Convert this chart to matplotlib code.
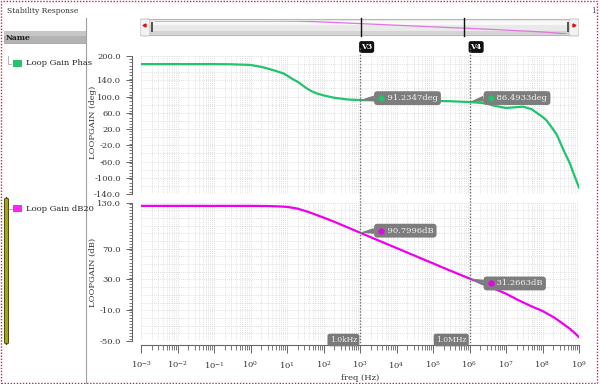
import matplotlib
matplotlib.use("Agg")
import matplotlib.pyplot as plt
from matplotlib import ticker, transforms
from matplotlib.patches import Rectangle, FancyBboxPatch, Polygon
from matplotlib.lines import Line2D

# values
freq = [1e-3, 1e-2, 1e-1, 0.3, 1, 2, 3, 5, 8, 10, 15, 20, 35, 50, 70, 100,
        200, 440, 1e3, 1e4, 1e5, 3e5, 1e6, 2e6, 3e6, 5e6, 1e7, 2e7, 3e7,
        5e7, 1e8, 1.3e8, 2e8, 2.5e8, 4e8, 5.6e8, 7e8, 1e9]
phase_deg = [180, 180, 180, 179.6, 178, 173, 169, 163, 157, 152, 142, 136,
             120, 112, 107, 103, 97, 93, 91.23, 90.6, 89.6, 88.5, 86.49,
             84.5, 82.5, 77, 72, 74, 75, 69, 50, 41, 18, 5, -37, -64, -88,
             -124]
gain_db = [125.6, 125.6, 125.6, 125.6, 125.6, 125.5, 125.4, 125.1, 124.6,
           124.2, 123, 121.9, 118.3, 115.8, 113.1, 110.5, 104.8, 98, 90.8,
           70.8, 50.9, 41.3, 31.27, 25.5, 22, 17.5, 11.5, 4, 0, -5, -11, -14,
           -19, -22, -29, -34, -38, -45]

cursor_freq = [1e3, 1e6]
cursor_names = ["V3", "V4"]
cursor_tags = ["1.0kHz", "1.0MHz"]
phase_marks = ["91.2347deg", "86.4933deg"]
phase_vals = [91.2347, 86.4933]
gain_marks = ["90.7996dB", "31.2663dB"]
gain_vals = [90.7996, 31.2663]

phase_ticks = [-140, -100, -60, -20, 20, 60, 100, 140, 200]
gain_ticks = [-50, -10, 30, 70, 130]

GREEN = "#1fc46c"
MAGENTA = "#ee00ee"
W, H = 600, 384

plt.rcParams["font.family"] = ["DejaVu Serif", "DejaVu Sans"]
plt.rcParams["mathtext.fontset"] = "dejavuserif"
plt.rcParams["font.size"] = 6


def box(l, t, r, b):
    return [l / W, 1 - b / H, (r - l) / W, (b - t) / H]


def fx(x):
    return x / W


def fy(y):
    return 1 - y / H


fig = plt.figure(figsize=(W / 100, H / 100), dpi=100)
fig.patch.set_facecolor("white")


def setup(ax, ylim, yticks, minor, grid_step):
    ax.set_xscale("log")
    ax.set_xlim(1e-3, 1e9)
    ax.set_ylim(*ylim)
    ax.set_yticks(yticks)
    ax.set_yticklabels(["%.1f" % v for v in yticks])
    ax.yaxis.set_minor_locator(ticker.MultipleLocator(minor))
    for s in ["top", "right"]:
        ax.spines[s].set_visible(False)
    ax.spines["left"].set_position(("outward", 6.5))
    ax.spines["left"].set_color("#666666")
    ax.spines["left"].set_linewidth(0.8)
    ax.tick_params(axis="y", which="major", length=4, width=0.7,
                   color="#666666", labelcolor="#333333", pad=4, labelsize=6)
    ax.tick_params(axis="y", which="minor", length=2, width=0.6,
                   color="#666666")
    # dotted grid
    for d in range(-3, 9):
        for k in range(1, 10):
            ax.axvline(k * 10.0 ** d, color="#d6d6d6", lw=0.6,
                       ls=(0, (1, 1.5)), zorder=0)
    y = ylim[0]
    while y <= ylim[1] + 1e-6:
        ax.axhline(y, color="#d6d6d6", lw=0.6, ls=(0, (1, 1.5)), zorder=0)
        y += grid_step


ax1 = fig.add_axes(box(141, 56, 579, 194))
setup(ax1, (-140, 200), phase_ticks, 8, 20)
ax1.spines["bottom"].set_visible(False)
ax1.tick_params(axis="x", which="both", bottom=False, labelbottom=False)
ax1.plot(freq, phase_deg, color=GREEN, lw=1.6, zorder=3)

ax2 = fig.add_axes(box(141, 202.5, 579, 341))
setup(ax2, (-50, 130), gain_ticks, 4, 10)
ax2.spines["bottom"].set_position(("outward", 3))
ax2.spines["bottom"].set_color("#666666")
ax2.spines["bottom"].set_linewidth(0.8)
ax2.xaxis.set_major_locator(ticker.LogLocator(base=10, numticks=20))
ax2.xaxis.set_minor_locator(ticker.LogLocator(base=10, subs=range(2, 10),
                                              numticks=200))
ax2.xaxis.set_minor_formatter(ticker.NullFormatter())
ax2.xaxis.set_major_formatter(ticker.LogFormatterMathtext())
ax2.tick_params(axis="x", which="major", length=6, width=0.7,
                color="#666666", labelcolor="#333333", pad=4.5, labelsize=6)
ax2.tick_params(axis="x", which="minor", length=3.5, width=0.6,
                color="#666666")
ax2.plot(freq, gain_db, color=MAGENTA, lw=1.6, zorder=3)

fig.text(fx(360), fy(377.5), "freq (Hz)", ha="center", va="center",
         fontsize=6, color="#333333")
fig.text(fx(93), fy(122), "LOOPGAIN (deg)", rotation=90, ha="center",
         va="center", fontsize=6, color="#333333")
fig.text(fx(93), fy(272), "LOOPGAIN (dB)", rotation=90, ha="center",
         va="center", fontsize=6, color="#333333")

# cursor lines across both plots
for f, name, tag in zip(cursor_freq, cursor_names, cursor_tags):
    tr = transforms.blended_transform_factory(ax2.transData, fig.transFigure)
    fig.add_artist(Line2D([f, f], [fy(48), fy(345)], transform=tr,
                          color="#6e6e6e", lw=1.0, ls=(0, (1, 1.2)),
                          zorder=5))
    ax1.annotate(name, xy=(f, 1.0), xycoords=("data", "axes fraction"),
                 xytext=(1, 9), textcoords="offset pixels", ha="left",
                 va="center", color="white", fontsize=5.5, fontweight="bold",
                 bbox=dict(boxstyle="round,pad=0.25,rounding_size=0.3",
                           fc="#111111", ec="none"),
                 annotation_clip=False)
    ax2.annotate(tag, xy=(f, 0.0), xycoords=("data", "axes fraction"),
                 xytext=(-3, 1), textcoords="offset pixels", ha="right",
                 va="center", color="#f0f0f0", fontsize=5.5,
                 bbox=dict(boxstyle="round,pad=0.3,rounding_size=0.3",
                           fc="#7a7a7a", ec="none"),
                 annotation_clip=False, zorder=6)


def marker_label(ax, f, v, text, color, dy):
    bb = dict(boxstyle="round,pad=0.35,rounding_size=0.4", fc="#7d7d7d",
              ec="none")
    ax.annotate("\u00a0\u00a0\u00a0\u00a0" + text, xy=(f, v),
                xytext=(17, dy), textcoords="offset pixels", ha="left",
                va="center", color="#f4f4f4", fontsize=6, bbox=bb, zorder=7,
                arrowprops=dict(arrowstyle="wedge,tail_width=0.7",
                                fc="#7d7d7d", ec="none", relpos=(0, 0.5),
                                shrinkA=0, shrinkB=0))
    dot_tr = transforms.offset_copy(ax.transData, fig=fig, x=21, y=dy,
                                    units="dots")
    ax.plot([f], [v], "o", ms=4.5, color=color, mec="none",
            transform=dot_tr, zorder=8, clip_on=False)


for f, v, t, dy in zip(cursor_freq, phase_vals, phase_marks, [2, 4]):
    marker_label(ax1, f, v, t, GREEN, dy)
for f, v, t, dy in zip(cursor_freq, gain_vals, gain_marks, [2, -5]):
    marker_label(ax2, f, v, t, MAGENTA, dy)

# overview scroll bar at top
bar = fig.add_axes(box(140, 17, 579, 38))
bar.set_xlim(0, 439)
bar.set_ylim(21, 0)
bar.axis("off")
bar.add_patch(FancyBboxPatch((3, 2.5), 433, 16,
                             boxstyle="round,pad=0,rounding_size=3",
                             fc="#e9e9e9", ec="#b8b8b8", lw=0.8))
bar.add_patch(Rectangle((5, 4), 429, 4, fc="#f8f8f8", ec="none"))
bar.add_patch(Rectangle((5, 14), 429, 3.5, fc="#d4d4d4", ec="none"))
for x0 in (0, 429):
    bar.add_patch(FancyBboxPatch((x0, 2), 10, 17,
                                 boxstyle="round,pad=0,rounding_size=2",
                                 fc="#f2f2f2", ec="#bbbbbb", lw=0.6))
bar.add_patch(Polygon([[3, 8.5], [6, 7], [6, 10]], color="#dd1111"))
bar.add_patch(Polygon([[436, 8.5], [433, 7], [433, 10]], color="#dd1111"))
bar.add_patch(Rectangle((10.5, 5), 2, 10, fc="#555555", ec="none"))
bar.add_patch(Rectangle((426.5, 5), 2, 10, fc="#555555", ec="none"))

ov = fig.add_axes(box(155, 21, 567, 34))
ov.set_xscale("log")
ov.set_xlim(1e-3, 1e9)
ov.set_ylim(min(gain_db), max(gain_db))
ov.axis("off")
ov.plot(freq, gain_db, color="#dd77dd", lw=0.9)
for f in cursor_freq:
    ov.axvline(f, ymin=-0.15, ymax=1.2, color="#111111", lw=1.0,
               clip_on=False)

# left panel
fig.text(fx(7), fy(11), "Stability Response", ha="left", va="center",
         fontsize=5.5, color="#333333")
fig.text(fx(594), fy(11), "1", ha="center", va="center", fontsize=5.5,
         color="#555555")
fig.add_artist(Rectangle((fx(4), fy(43)), fx(82), 12 / H,
                         transform=fig.transFigure, fc="#b3b3b3",
                         ec="#9a9a9a", lw=0.5))
fig.add_artist(Rectangle((fx(4), fy(36)), fx(82), 5 / H,
                         transform=fig.transFigure, fc="#c6c6c6", ec="none"))
fig.text(fx(6), fy(37.5), "Name", ha="left", va="center", fontsize=5.5,
         color="#222222", fontweight="bold")
fig.add_artist(Line2D([fx(86), fx(86)], [fy(18), fy(384)],
                      transform=fig.transFigure, color="#a0a0a0", lw=0.8))
fig.add_artist(Line2D([fx(8), fx(8), fx(11)], [fy(56), fy(64), fy(64)],
                      transform=fig.transFigure, color="#aaaaaa", lw=0.6))
fig.add_artist(Rectangle((fx(13), fy(66.5)), 9 / W, 7 / H,
                         transform=fig.transFigure, fc=GREEN, ec="none"))
fig.text(fx(26), fy(63), "Loop Gain Phas", ha="left", va="center",
         fontsize=6, color="#222222")
fig.add_artist(FancyBboxPatch((fx(4.5), fy(344)), 4 / W, 146 / H,
                              boxstyle="round,pad=0,rounding_size=0.004",
                              transform=fig.transFigure, fc="#a6a612",
                              ec="#4a4a10", lw=0.7))
fig.add_artist(Line2D([fx(9), fx(12)], [fy(208.5), fy(208.5)],
                      transform=fig.transFigure, color="#aaaaaa", lw=0.6))
fig.add_artist(Rectangle((fx(13), fy(212)), 9 / W, 7 / H,
                         transform=fig.transFigure, fc="#ff22ff", ec="none"))
fig.text(fx(26), fy(209), "Loop Gain dB20", ha="left", va="center",
         fontsize=6, color="#222222")

# red dotted frame
fig.add_artist(Rectangle((fx(1), fy(382.5)), fx(596), 381.5 / H,
                         transform=fig.transFigure, fill=False,
                         ec="#cc2244", lw=1.0, ls=(0, (1, 1.2))))

fig.savefig("out.png", dpi=100)
